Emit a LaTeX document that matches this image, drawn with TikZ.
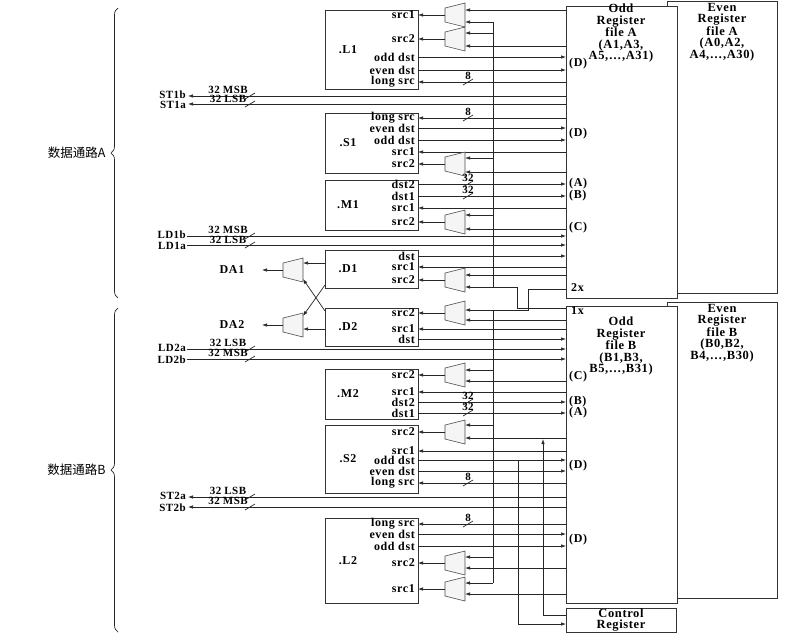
\documentclass[tikz,border=0pt]{standalone}
\usepackage{fontspec}
\setmainfont{Liberation Serif}
\newfontfamily\cjk{Noto Sans CJK SC}
\usetikzlibrary{arrows.meta,decorations.pathreplacing}
\tikzset{
  w/.style={line width=0.7pt,draw=black!85},
  ar/.style={w,-{Latex[length=5pt,width=3.5pt]}},
  mx/.style={draw=black!70,fill=blue!12!black!4!white,line width=0.6pt},
  box/.style={draw=black!80,line width=0.7pt,fill=white},
  lab/.style={font=\bfseries\fontsize{12}{10}\selectfont\addfontfeature{LetterSpace=5},inner sep=0pt},
  sm/.style={font=\bfseries\fontsize{11}{10}\selectfont\addfontfeature{LetterSpace=4},inner sep=0pt},
  reg/.style={font=\bfseries\fontsize{12.5}{11.5}\selectfont\addfontfeature{LetterSpace=5},align=center,inner sep=0pt,anchor=north}
}
% mux: name, centre x, centre y
\newcommand\mux[3]{\draw[mx] (#2-10,#3-7) -- (#2+10,#3-12) -- (#2+10,#3+12) -- (#2-10,#3+7) -- cycle;
  \coordinate (#1) at (#2,#3);}
% cell mux: centre y, first input y, its source x, second input y, its source x
\newcommand\cmux[5]{\mux{m#1}{455}{#1}
  \draw[ar] (445,#1) -- (418,#1);
  \draw[ar] (#3,#2) -- (465,#2);
  \draw[ar] (#5,#4) -- (465,#4);}
\newcommand\tor[1]{\draw[ar] (418,#1) -- (566,#1);}
\newcommand\fromr[1]{\draw[ar] (566,#1) -- (418,#1);}
\newcommand\port[2]{\node[lab,anchor=east] at (415,#1) {#2};}
\newcommand\unit[3]{\draw[box] (325,#1) rectangle (418,#2); \node[lab] at (348,{(#1+#2)/2}) {#3};}
\newcommand\bwslash[3]{\draw[w] (#1-5,#2+3) -- (#1+5,#2-3); \node[sm] at (#1,#2-6) {#3};}
\newcommand\rl[2]{\node[lab,anchor=west] at (569,#1) {#2};}
\begin{document}
\begin{tikzpicture}[x=1pt,y=-1pt]
\useasboundingbox (0,0) rectangle (795,638);
% register files
\draw[box] (667,1) rectangle (777,293);
\node[reg] at (722,3) {Even\\Register\\file A\\(A0,A2,\\A4,\ldots,A30)};
\draw[box] (566,6) rectangle (677,298);
\node[reg] at (621,4) {Odd\\Register\\file A\\(A1,A3,\\A5,\ldots,A31)};
\draw[box] (667,302) rectangle (777,598);
\node[reg] at (722,304) {Even\\Register\\file B\\(B0,B2,\\B4,\ldots,B30)};
\draw[box] (566,306) rectangle (677,603);
\node[reg] at (621,317) {Odd\\Register\\file B\\(B1,B3,\\B5,\ldots,B31)};
\draw[box] (566,608) rectangle (676,632);
\node[reg,anchor=center] (cr) at (621,620) {Control\\Register};
\node[lab,anchor=west] at (571,288) {2x};
\node[lab,anchor=west] at (571,311) {1x};
% cross-path buses
\draw[w] (493,22) -- (493,287);
\draw[w] (493,310) -- (493,583);
\draw[w] (566,308) -- (517,308) -- (517,287) -- (493,287);
\draw[w] (566,289) -- (528,289) -- (528,310) -- (493,310);
% ---- L1
\unit{10}{89}{.L1}
\port{15}{src1}\port{39}{src2}\port{57}{odd dst}\port{70}{even dst}\port{82}{long src}
\cmux{15}{10}{566}{22}{493}
\cmux{39}{33}{493}{46}{566}
\tor{57}\tor{70}\fromr{82}\bwslash{468}{82}{8}\rl{64}{(D)}
% ST1
\draw[ar] (566,96) -- (188,96); \node[sm,anchor=east] at (186,95) {ST1b};
\node[sm] at (228,90) {32 MSB}; \draw[w] (245,99) -- (255,93);
\draw[ar] (566,104) -- (188,104); \node[sm,anchor=east] at (186,105) {ST1a};
\node[sm] at (228,99) {32 LSB}; \draw[w] (245,107) -- (255,101);
% ---- S1
\unit{113}{173}{.S1}
\port{118}{long src}\port{128}{even dst}\port{140}{odd dst}\port{152}{src1}\port{164}{src2}
\fromr{118}\bwslash{468}{118}{8}\tor{128}\tor{140}\rl{134}{(D)}\fromr{152}
\cmux{164}{158}{493}{172}{566}
% ---- M1
\unit{180}{230}{.M1}
\port{184}{dst2}\port{196}{dst1}\port{208}{src1}\port{222}{src2}
\tor{184}\bwslash{468}{184}{32}\rl{184}{(A)}
\tor{196}\bwslash{468}{196}{32}\rl{196}{(B)}
\fromr{208}
\cmux{222}{215}{493}{229}{566}\rl{228}{(C)}
% LD1
\draw[ar] (187,236) -- (566,236); \node[sm,anchor=east] at (186,235) {LD1b};
\node[sm] at (228,230) {32 MSB}; \draw[w] (245,239) -- (255,233);
\draw[ar] (187,245) -- (566,245); \node[sm,anchor=east] at (186,246) {LD1a};
\node[sm] at (228,240) {32 LSB}; \draw[w] (245,248) -- (255,242);
% ---- D1
\unit{250}{288}{.D1}
\port{256}{dst}\port{267}{src1}\port{280}{src2}
\tor{256}\fromr{267}
\cmux{280}{275}{566}{287}{493}
% ---- D2
\unit{308}{346}{.D2}
\port{313}{src2}\port{329}{src1}\port{339}{dst}
\cmux{313}{310}{493}{320}{566}
\fromr{329}\tor{339}
% DA muxes
\mux{da1}{293}{270}
\mux{da2}{293}{325}
\draw[ar] (325,263) -- (303,263);
\draw[ar] (325,329) -- (303,329);
\draw[ar] (325,311) -- (303,279);
\draw[ar] (325,285) -- (303,316);
\draw[ar] (283,270) -- (262,270); \node[lab] at (232,270) {DA1};
\draw[ar] (283,325) -- (262,325); \node[lab] at (232,325) {DA2};
% LD2
\draw[ar] (187,349) -- (566,349); \node[sm,anchor=east] at (186,348) {LD2a};
\node[sm] at (228,343) {32 LSB}; \draw[w] (245,352) -- (255,346);
\draw[ar] (187,359) -- (566,359); \node[sm,anchor=east] at (186,360) {LD2b};
\node[sm] at (228,353) {32 MSB}; \draw[w] (245,362) -- (255,356);
% ---- M2
\unit{369}{419}{.M2}
\port{375}{src2}\port{392}{src1}\port{402}{dst2}\port{413}{dst1}
\cmux{375}{370}{493}{381}{566}\rl{377}{(C)}
\fromr{392}
\tor{402}\bwslash{468}{402}{32}\rl{402}{(B)}
\tor{413}\bwslash{468}{413}{32}\rl{413}{(A)}
% ---- S2
\unit{425}{493}{.S2}
\port{432}{src2}\port{451}{src1}\port{460}{odd dst}\port{471}{even dst}\port{483}{long src}
\cmux{432}{425}{493}{438}{566}
\fromr{451}\tor{460}\tor{471}\rl{466}{(D)}
\fromr{483}\bwslash{468}{483}{8}
% control register
\draw[ar] (518,460) -- (518,624) -- (566,624);
\draw[ar] (566,615) -- (543,615) -- (543,439);
% ST2
\draw[ar] (566,497) -- (188,497); \node[sm,anchor=east] at (186,496) {ST2a};
\node[sm] at (228,491) {32 LSB}; \draw[w] (245,500) -- (255,494);
\draw[ar] (566,507) -- (188,507); \node[sm,anchor=east] at (186,508) {ST2b};
\node[sm] at (228,501) {32 MSB}; \draw[w] (245,510) -- (255,504);
% ---- L2
\unit{518}{603}{.L2}
\port{524}{long src}\port{534}{even dst}\port{546}{odd dst}\port{563}{src2}\port{589}{src1}
\fromr{524}\bwslash{468}{524}{8}\tor{534}\tor{546}\rl{540}{(D)}
\cmux{563}{557}{493}{568}{566}
\cmux{589}{583}{493}{594}{566}
% braces
\draw[w,decorate,decoration={brace,amplitude=7pt}] (118,298) -- (118,8);
\draw[w,decorate,decoration={brace,amplitude=7pt}] (118,632) -- (118,308);
\node[font=\cjk\fontsize{12.5}{10}\selectfont,anchor=east] at (109,153) {数据通路A};
\node[font=\cjk\fontsize{12.5}{10}\selectfont,anchor=east] at (109,470) {数据通路B};
\end{tikzpicture}
\end{document}
